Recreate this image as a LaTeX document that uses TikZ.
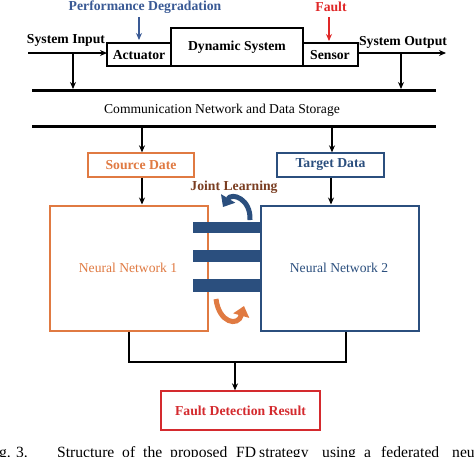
\documentclass[tikz,border=0pt]{standalone}
\usepackage{fontspec}
\setmainfont{Liberation Serif}
\usetikzlibrary{arrows.meta}
\definecolor{pdblue}{HTML}{3A5A95}
\definecolor{nnblue}{HTML}{2B4F7E}
\definecolor{nnorange}{HTML}{E07A42}
\definecolor{faultred}{HTML}{E02828}
\definecolor{resred}{HTML}{D42A2E}
\definecolor{jlbrown}{HTML}{7A3E22}
\tikzset{
  blk/.style={draw=black, line width=1.5pt},
  arr/.style={line width=1.2pt, -{Stealth[length=7pt,width=6pt]}},
  conn/.style={line width=1.2pt},
  bus/.style={line width=3pt},
  lbl/.style={font=\fontsize{13.7}{13.7}\selectfont\bfseries, inner sep=0pt},
  reg/.style={font=\fontsize{13.6}{13.6}\selectfont, inner sep=0pt},
  capt/.style={font=\fontsize{15.6}{15.6}\selectfont, inner sep=0pt, anchor=base west},
  bar/.style={fill=nnblue, draw=none},
}
\begin{document}
\begin{tikzpicture}[x=1pt,y=-1pt]
\clip (0,0) rectangle (474,456);
\fill[white] (0,0) rectangle (474,456);
% top blocks
\draw[blk] (107,43) rectangle (171,66);
\node[lbl] (act) at (139,55) {Actuator};
\draw[blk] (171,28) rectangle (303,66);
\node[lbl] (dyn) at (237,47) {Dynamic System};
\draw[blk] (303,43) rectangle (358,66);
\node[lbl] (sen) at (330,55) {Sensor};
\coordinate (actW) at (107,53);
\coordinate (senE) at (358,53);
% labels
\node[lbl, text=pdblue] (pd) at (145,7) {Performance Degradation};
\node[lbl, text=faultred] (fault) at (331,7) {Fault};
\node[lbl] (sin) at (66,40) {System Input};
\node[lbl] (sout) at (403,42) {System Output};
\coordinate (pdE) at (139,40);
\coordinate (fE) at (329,41);
\draw[line width=1.2pt, draw=pdblue, -{Stealth[length=7pt,width=6pt]}] (139,17) -- (pdE);
\draw[line width=1.2pt, draw=faultred, -{Stealth[length=7pt,width=6pt]}] (329,17) -- (fE);
% input/output
\coordinate (inS) at (28,53);
\coordinate (outE) at (446,53);
\draw[arr] (inS) -- (actW);
\draw[arr] (senE) -- (outE);
% bus
\coordinate (b1L) at (32,90); \coordinate (b1R) at (436,90);
\coordinate (b2L) at (32,126); \coordinate (b2R) at (436,126);
\draw[bus] (b1L) -- (b1R);
\draw[bus] (b2L) -- (b2R);
\draw[arr] (73,53) -- (73,89);
\draw[arr] (401,53) -- (401,89);
\node[reg] (comm) at (222,110) {Communication Network and Data Storage};
% source / target
\node[draw=nnorange, line width=1.3pt, minimum width=106pt, minimum height=24pt, inner sep=0pt, text=nnorange, font=\fontsize{13.7}{13.7}\selectfont\bfseries] (src) at (141,165) {Source Date};
\node[draw=nnblue, line width=1.3pt, minimum width=107pt, minimum height=24pt, inner sep=0pt, text=nnblue, font=\fontsize{13.7}{13.7}\selectfont\bfseries] (tgt) at (330.5,165) {Target Data};
\draw[arr] (142,127) -- (src.north -| 142,0);
\draw[arr] (332,127) -- (tgt.north -| 332,0);
% neural networks
\node[draw=nnorange, line width=2pt, minimum width=158pt, minimum height=125pt, inner sep=0pt] (nn1) at (129,268) {};
\node[reg, text=nnorange] (nn1t) at (128,268) {Neural Network 1};
\node[draw=nnblue, line width=2pt, minimum width=158pt, minimum height=125pt, inner sep=0pt] (nn2) at (339.5,268) {};
\node[reg, text=nnblue] (nn2t) at (339,268) {Neural Network 2};
\draw[arr] (src.south -| 142,0) -- (nn1.north -| 142,0);
\draw[arr] (tgt.south -| 331,0) -- (nn2.north -| 331,0);
% bars
\fill[bar] (193,222) rectangle (260,233);
\fill[bar] (193,250) rectangle (260,262);
\fill[bar] (193,279) rectangle (260,292);
% joint learning
\node[lbl, text=jlbrown] (jl) at (234,187) {Joint Learning};
\draw[draw=nnblue, line width=5pt, -{Triangle[length=10pt,width=16pt]}] (250,220) .. controls (251,199) and (232,192) .. (223,207);
\draw[draw=nnorange, line width=5pt, -{Triangle[length=10pt,width=16pt]}] (216,299) .. controls (219,323) and (238,327) .. (244,306);
% bottom
\coordinate (j1) at (129,362);
\coordinate (j2) at (346,362);
\coordinate (jm) at (235,362);
\draw[conn] (nn1.south -| j1) -- (j1) -- (j2) -- (nn2.south -| j2);
\node[draw=resred, line width=1.3pt, minimum width=159pt, minimum height=39pt, inner sep=0pt, text=resred, font=\fontsize{13.7}{13.7}\selectfont\bfseries] (res) at (240.5,410.5) {Fault Detection Result};
\draw[arr] (jm) -- (res.north -| jm);
% caption (cut by the picture edge, as in the reference)
\node[capt, anchor=base east] (fig) at (28,457.5) {Fig. 3.};
\node[capt] (w1) at (57,457.5) {Structure};
\node[capt] (w2) at (122,457.5) {of};
\node[capt] (w3) at (143,457.5) {the};
\node[capt] (w4) at (170,457.5) {proposed};
\node[capt] (w5) at (236,457.5) {FD};
\node[capt] (w6) at (259,457.5) {strategy};
\node[capt] (w7) at (322,457.5) {using};
\node[capt] (w8) at (364,457.5) {a};
\node[capt] (w9) at (381,457.5) {federated};
\node[capt] (w10) at (452,457.5) {neural};
\end{tikzpicture}
\end{document}
